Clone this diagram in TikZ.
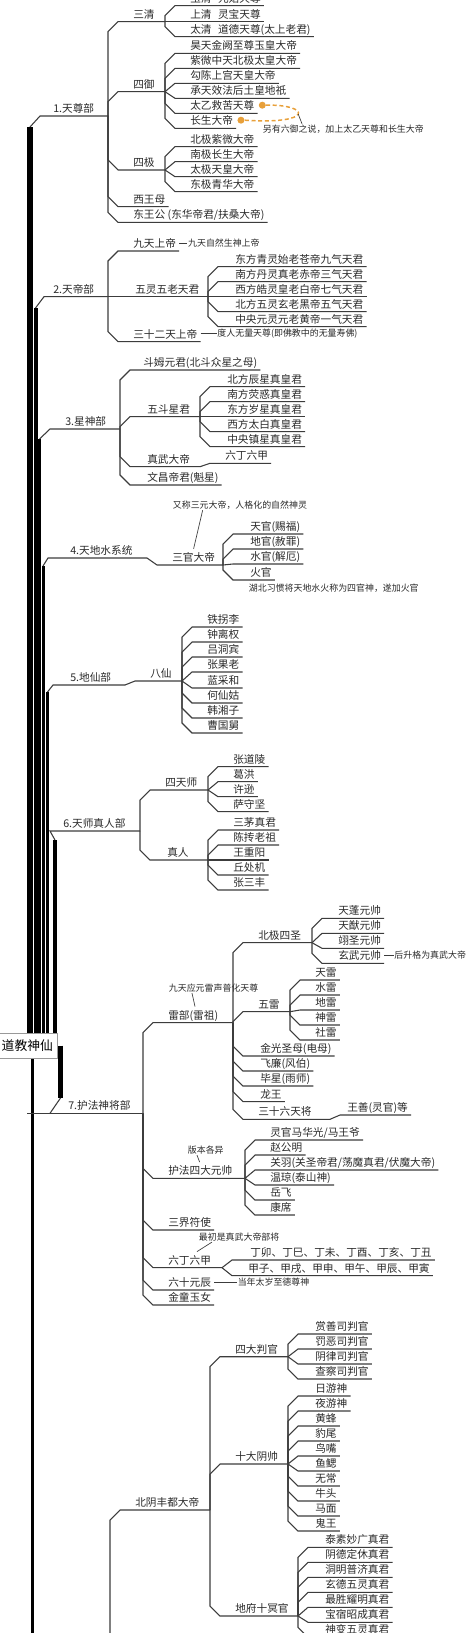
\documentclass[tikz,border=0pt]{standalone}
\usepackage{fontspec}
\newfontfamily\cjk{Noto Sans CJK SC}
\usetikzlibrary{calc,positioning,backgrounds}
\definecolor{linegray}{HTML}{3C3C3C}
\definecolor{inkgray}{HTML}{2A2A2A}
\definecolor{gold}{HTML}{E8A03A}

\begin{document}
\begin{tikzpicture}[
  x=0.75pt, y=-0.75pt,
  every node/.style={font=\cjk\fontsize{8}{9}\selectfont, text=inkgray},
  item/.style={anchor=south west, inner xsep=2.25pt, inner ysep=2.5pt, xshift=-2.25pt, text depth=0pt},
  note/.style={anchor=west, inner sep=0.5pt, font=\cjk\fontsize{6.7}{8}\selectfont},
  conn/.style={draw=linegray, line width=0.8pt},
  leader/.style={draw=linegray, line width=0.5pt},
  bar/.style={draw=black, line width=#1},
  br/.style={to path={let \p1=(\tikztostart), \p2=(\tikztotarget),
    \n1={min(abs(\y2-\y1),7.5pt)}, \n2={(\y2-\y1)/max(abs(\y2-\y1),0.01pt)} in
    -- (\x1,{\y2-(\n2)*\n1}) -- ({\x1+7.5pt},\y2) -- (\tikztotarget)}},
  rootbox/.style={draw=black!40, fill=white, line width=0.6pt, inner xsep=3.5pt,
    minimum height=18.75pt, font=\cjk\fontsize{9.6}{11}\selectfont, text=black},
  odot/.style={circle, fill=gold, inner sep=0pt, minimum size=5.25pt}
]
\useasboundingbox (0,0) rectangle (470,1633);
\clip (0,0) rectangle (470,1633);

\node[rootbox, anchor=east] (root) at (58,1045.5) {道教神仙};

% 1.天尊部
\node[item] (tianzun) at (53,116) {1.天尊部};
\coordinate (tianzun-f) at (108,116);
\node[item] (sanqing) at (133,21.7) {三清};
\coordinate (sanqing-f) at (165,21.7);
\node[item] (yuqing) at (190,5.7) {玉清\hspace{0.6em}元始天尊};
\node[item] (shangqing) at (190,21.7) {上清\hspace{0.6em}灵宝天尊};
\node[item] (taiqing) at (190,36.7) {太清\hspace{0.6em}道德天尊(太上老君)};
\node[item] (siyu) at (133,91.7) {四御};
\coordinate (siyu-f) at (165,91.7);
\node[item] (yuhuang) at (190,53.3) {昊天金阙至尊玉皇大帝};
\node[item] (ziwei) at (190,68.3) {紫微中天北极太皇大帝};
\node[item] (gouchen) at (190,83.3) {勾陈上宫天皇大帝};
\node[item] (houtu) at (190,98.3) {承天效法后土皇地祇};
\node[item] (taiyi) at (190,113.3) {太乙救苦天尊};
\node[item] (changsheng) at (190,128.3) {长生大帝};
\node[item] (siji) at (133,170) {四极};
\coordinate (siji-f) at (165,170);
\node[item] (beiji) at (190,146.7) {北极紫微大帝};
\node[item] (nanji) at (190,161.7) {南极长生大帝};
\node[item] (taiji) at (190,176.7) {太极天皇大帝};
\node[item] (dongji) at (190,191.7) {东极青华大帝};
\node[item] (xiwangmu) at (133,206.7) {西王母};
\node[item] (dongwanggong) at (133,222.3) {东王公 (东华帝君/扶桑大帝)};
\node[odot, right=0.75pt of taiyi] (dot1) {};
\node[odot, right=0.75pt of changsheng] (dot2) {};
\node[note] (nliuyu) at (262,129) {另有六御之说，加上太乙天尊和长生大帝};

\draw[conn] (tianzun-f) edge[br] (sanqing-f) edge[br] (siyu-f) edge[br] (siji-f)
  edge[br] (xiwangmu.south east) edge[br] (dongwanggong.south east);
\draw[conn] (sanqing-f) edge[br] (yuqing.south east) edge[br] (shangqing.south east)
  edge[br] (taiqing.south east);
\draw[conn] (siyu-f) edge[br] (yuhuang.south east) edge[br] (ziwei.south east)
  edge[br] (gouchen.south east) edge[br] (houtu.south east)
  edge[br] (taiyi.south east) edge[br] (changsheng.south east);
\draw[conn] (siji-f) edge[br] (beiji.south east) edge[br] (nanji.south east)
  edge[br] (taiji.south east) edge[br] (dongji.south east);
\draw[gold, line width=1.1pt, dash pattern=on 3pt off 2pt]
  (dot1.east) .. controls (310,104) and (315,125) .. (dot2.east) coordinate[pos=0.5] (dotmid);
\draw[leader] (dotmid) -- ([xshift=30pt]nliuyu.north west);

% 2.天帝部
\node[item] (tiandi) at (53,296.7) {2.天帝部};
\coordinate (tiandi-f) at (108,296.7);
\node[item] (jiutian) at (133,251) {九天上帝};
\node[note, right=6pt of jiutian] (nziran) {九天自然生神上帝};
\node[item] (wuling) at (135,296.7) {五灵五老天君};
\coordinate (wuling-f) at (208,296.7);
\node[item] (qingdi) at (235,266.7) {东方青灵始老苍帝九气天君};
\node[item] (chidi) at (235,281.7) {南方丹灵真老赤帝三气天君};
\node[item] (baidi) at (235,296.7) {西方皓灵皇老白帝七气天君};
\node[item] (heidi) at (235,311.7) {北方五灵玄老黑帝五气天君};
\node[item] (huangdi) at (235,326.7) {中央元灵元老黄帝一气天君};
\node[item] (sanshier) at (133,341.7) {三十二天上帝};
\node[note, right=12pt of sanshier] (nduren) {度人无量天尊(即佛教中的无量寿佛)};

\draw[conn] (tiandi-f) edge[br] (jiutian.south east) edge[br] (wuling-f)
  edge[br] (sanshier.south east);
\draw[conn] (wuling-f) edge[br] (qingdi.south east) edge[br] (chidi.south east)
  edge[br] (baidi.south east) edge[br] (heidi.south east) edge[br] (huangdi.south east);
\draw[leader] (jiutian.east) -- (nziran.west);
\draw[leader] (sanshier.east) -- (nduren.west);

% 3.星神部
\node[item] (xingshen) at (65,429) {3.星神部};
\coordinate (xingshen-f) at (120,429);
\node[item] (doumu) at (143,370) {斗姆元君(北斗众星之母)};
\node[item] (wudou) at (147,416.7) {五斗星君};
\coordinate (wudou-f) at (200,416.7);
\node[item] (chenxing) at (227,386.7) {北方辰星真皇君};
\node[item] (yinghuo) at (227,401.7) {南方荧惑真皇君};
\node[item] (suixing) at (227,416.7) {东方岁星真皇君};
\node[item] (taibai) at (227,431.7) {西方太白真皇君};
\node[item] (zhenxing) at (227,446.7) {中央镇星真皇君};
\node[item] (zhenwu) at (147,466.7) {真武大帝};
\coordinate (zhenwu-f) at (200,466.7);
\node[item] (liujia) at (225,463.3) {六丁六甲};
\node[item] (wenchang) at (147,485) {文昌帝君(魁星)};

\draw[conn] (xingshen-f) edge[br] (doumu.south east) edge[br] (wudou-f)
  edge[br] (zhenwu-f) edge[br] (wenchang.south east);
\draw[conn] (wudou-f) edge[br] (chenxing.south east) edge[br] (yinghuo.south east)
  edge[br] (suixing.south east) edge[br] (taibai.south east) edge[br] (zhenxing.south east);
\draw[conn] (zhenwu-f) edge[br] (liujia.south east);

% 4.天地水系统
\node[item] (tiandishui) at (70,558) {4.天地水系统};
\coordinate (tiandishui-f) at (147,558);
\node[item] (sanguan) at (172,565) {三官大帝};
\coordinate (sanguan-f) at (223,565);
\node[item] (tianguan) at (250,534) {天官(赐福)};
\node[item] (diguan) at (250,549) {地官(赦罪)};
\node[item] (shuiguan) at (250,564) {水官(解厄)};
\node[item] (huoguan) at (250,580) {火官};
\node[note] (nsanyuan) at (172,505) {又称三元大帝，人格化的自然神灵};
\node[note, anchor=north west] (nsiguan) at (248,583.5) {湖北习惯将天地水火称为四官神，遂加火官};

\draw[conn] (tiandishui-f) edge[br] (sanguan-f);
\draw[conn] (sanguan-f) edge[br] (tianguan.south east) edge[br] (diguan.south east)
  edge[br] (shuiguan.south east) edge[br] (huoguan.south east);
\draw[leader] ([xshift=23pt]nsanyuan.south west) -- (sanguan.north);

% 5.地仙部
\node[item] (dixian) at (70,685) {5.地仙部};
\coordinate (dixian-f) at (125,685);
\node[item] (baxian) at (150,681) {八仙};
\coordinate (baxian-f) at (182,681);
\node[item] (tieguaili) at (207,627) {铁拐李};
\node[item] (zhongli) at (207,642) {钟离权};
\node[item] (lvdongbin) at (207,657) {吕洞宾};
\node[item] (zhangguolao) at (207,672) {张果老};
\node[item] (lancaihe) at (207,688) {蓝采和};
\node[item] (hexiangu) at (207,703) {何仙姑};
\node[item] (hanxiangzi) at (207,718) {韩湘子};
\node[item] (caoguojiu) at (207,733) {曹国舅};

\draw[conn] (dixian-f) edge[br] (baxian-f);
\draw[conn] (baxian-f) edge[br] (tieguaili.south east) edge[br] (zhongli.south east)
  edge[br] (lvdongbin.south east) edge[br] (zhangguolao.south east)
  edge[br] (lancaihe.south east) edge[br] (hexiangu.south east)
  edge[br] (hanxiangzi.south east) edge[br] (caoguojiu.south east);

% 6.天师真人部
\node[item] (tianshi) at (63,831) {6.天师真人部};
\coordinate (tianshi-f) at (140,831);
\node[item] (sitianshi) at (165,790) {四天师};
\coordinate (sitianshi-f) at (208,790);
\node[item] (zhangdaoling) at (233,766.7) {张道陵};
\node[item] (gehong) at (233,781.7) {葛洪};
\node[item] (xuxun) at (233,796.7) {许逊};
\node[item] (sashoujian) at (233,811.7) {萨守坚};
\node[item] (zhenren) at (167,860) {真人};
\coordinate (zhenren-f) at (208,860);
\node[item] (sanmao) at (233,830) {三茅真君};
\node[item] (chentuan) at (233,845) {陈抟老祖};
\node[item] (wangchongyang) at (233,860) {王重阳};
\node[item] (qiuchuji) at (233,875) {丘处机};
\node[item] (zhangsanfeng) at (233,890) {张三丰};

\draw[conn] (tianshi-f) edge[br] (sitianshi-f) edge[br] (zhenren-f);
\draw[conn] (sitianshi-f) edge[br] (zhangdaoling.south east) edge[br] (gehong.south east)
  edge[br] (xuxun.south east) edge[br] (sashoujian.south east);
\draw[conn] (zhenren-f) edge[br] (sanmao.south east) edge[br] (chentuan.south east)
  edge[br] (wangchongyang.south east) edge[br] (qiuchuji.south east)
  edge[br] (zhangsanfeng.south east);

% 7.护法神将部
\node[item] (hufa) at (68,1113.3) {7.护法神将部};
\coordinate (hufa-f) at (143,1113.3);
\node[item] (leibu) at (168,1022.7) {雷部(雷祖)};
\coordinate (leibu-f) at (233,1022.7);
\node[note] (nleizu) at (168,988) {九天应元雷声普化天尊};
\node[item] (beijisi) at (258,942.7) {北极四圣};
\coordinate (beijisi-f) at (312,942.7);
\node[item] (tianpeng) at (338,918.3) {天蓬元帅};
\node[item] (tianyou) at (338,933.3) {天猷元帅};
\node[item] (yisheng) at (338,948.3) {翊圣元帅};
\node[item] (xuanwu) at (338,963.3) {玄武元帅};
\node[note, right=7pt of xuanwu] (nshengge) {后升格为真武大帝};
\node[item] (wulei) at (258,1011.7) {五雷};
\coordinate (wulei-f) at (290,1011.7);
\node[item] (tianlei) at (315,980) {天雷};
\node[item] (shuilei) at (315,995) {水雷};
\node[item] (dilei) at (315,1010) {地雷};
\node[item] (shenlei) at (315,1025) {神雷};
\node[item] (shelei) at (315,1040) {社雷};
\node[item] (jinguang) at (260,1056) {金光圣母(电母)};
\node[item] (feilian) at (260,1071) {飞廉(风伯)};
\node[item] (bixing) at (260,1086) {毕星(雨师)};
\node[item] (longwang) at (260,1101.7) {龙王};
\node[item] (tianjiang) at (258,1119.3) {三十六天将};
\coordinate (tianjiang-f) at (330,1119.3);
\node[item] (wangshan) at (347,1115) {王善(灵官)等};
\node[item] (hufasi) at (168,1178.3) {护法四大元帅};
\coordinate (hufasi-f) at (245,1178.3);
\node[note] (nbanben) at (187,1150) {版本各异};
\node[item] (lingguan) at (270,1140) {灵官马华光/马王爷};
\node[item] (zhaogongming) at (270,1155) {赵公明};
\node[item] (guanyu) at (270,1170) {关羽(关圣帝君/荡魔真君/伏魔大帝)};
\node[item] (wenqiong) at (270,1185) {温琼(泰山神)};
\node[item] (yuefei) at (270,1200) {岳飞};
\node[item] (kangxi) at (270,1215) {康席};
\node[item] (sanjie) at (168,1230) {三界符使};
\node[item] (liuding) at (168,1267.7) {六丁六甲};
\coordinate (liuding-f) at (222,1267.7);
\node[note] (nbujiang) at (198,1237) {最初是真武大帝部将};
\node[item] (dingmao) at (250,1260) {丁卯、丁巳、丁未、丁酉、丁亥、丁丑};
\node[item] (jiazi) at (248,1275.7) {甲子、甲戌、甲申、甲午、甲辰、甲寅};
\node[item] (liushi) at (168,1290) {六十元辰};
\node[note, right=17pt of liushi] (ntaisui) {当年太岁至德尊神};
\node[item] (jintong) at (168,1305) {金童玉女};

\draw[conn] (hufa-f) edge[br] (leibu-f) edge[br] (hufasi-f) edge[br] (sanjie.south east)
  edge[br] (liuding-f) edge[br] (liushi.south east) edge[br] (jintong.south east);
\draw[conn] (leibu-f) edge[br] (beijisi-f) edge[br] (wulei-f)
  edge[br] (jinguang.south east) edge[br] (feilian.south east)
  edge[br] (bixing.south east) edge[br] (longwang.south east) edge[br] (tianjiang-f);
\draw[conn] (beijisi-f) edge[br] (tianpeng.south east) edge[br] (tianyou.south east)
  edge[br] (yisheng.south east) edge[br] (xuanwu.south east);
\draw[conn] (wulei-f) edge[br] (tianlei.south east) edge[br] (shuilei.south east)
  edge[br] (dilei.south east) edge[br] (shenlei.south east) edge[br] (shelei.south east);
\draw[conn] (tianjiang-f) edge[br] (wangshan.south east);
\draw[conn] (hufasi-f) edge[br] (lingguan.south east) edge[br] (zhaogongming.south east)
  edge[br] (guanyu.south east) edge[br] (wenqiong.south east)
  edge[br] (yuefei.south east) edge[br] (kangxi.south east);
\draw[conn] (liuding-f) edge[br] (dingmao.south east) edge[br] (jiazi.south east);
\draw[leader] (xuanwu.east) -- (nshengge.west);
\draw[leader] (liushi.east) -- (ntaisui.west);
\draw[leader] ([xshift=18pt]nleizu.south west) -- ([xshift=22.5pt]leibu.north west);
\draw[leader] ([xshift=7.5pt]nbanben.south west) -- ([xshift=26pt]hufasi.north west);
\draw[leader] ([xshift=10.5pt]nbujiang.south west) -- ([xshift=24pt]liuding.north west);

% 北阴丰都大帝
\coordinate (mingfu-f) at (110,1700);
\node[item] (beiyin) at (135,1510) {北阴丰都大帝};
\coordinate (beiyin-f) at (210,1510);
\node[item] (sipan) at (235,1356.7) {四大判官};
\coordinate (sipan-f) at (288,1356.7);
\node[item] (shangshan) at (315,1334) {赏善司判官};
\node[item] (fae) at (315,1349) {罚恶司判官};
\node[item] (yinlv) at (315,1364) {阴律司判官};
\node[item] (chacha) at (315,1379) {查察司判官};
\node[item] (shida) at (235,1464) {十大阴帅};
\coordinate (shida-f) at (288,1464);
\node[item] (riyou) at (315,1396) {日游神};
\node[item] (yeyou) at (315,1411) {夜游神};
\node[item] (huangfeng) at (315,1426) {黄蜂};
\node[item] (baowei) at (315,1441) {豹尾};
\node[item] (niaozui) at (315,1456) {鸟嘴};
\node[item] (yusai) at (315,1471) {鱼鳃};
\node[item] (wuchang) at (315,1486) {无常};
\node[item] (niutou) at (315,1501) {牛头};
\node[item] (mamian) at (315,1516) {马面};
\node[item] (guiwang) at (315,1531) {鬼王};
\node[item] (difu) at (235,1616) {地府十冥官};
\coordinate (difu-f) at (298,1616);
\node[item] (taisu) at (325,1547.3) {泰素妙广真君};
\node[item] (yinde) at (325,1562.3) {阴德定休真君};
\node[item] (dongming) at (325,1577.3) {洞明普济真君};
\node[item] (xuande) at (325,1592.3) {玄德五灵真君};
\node[item] (zuisheng) at (325,1607.3) {最胜耀明真君};
\node[item] (baosu) at (325,1622.3) {宝宿昭成真君};
\node[item] (shenbian) at (325,1637.3) {神变五灵真君};

\draw[conn] (mingfu-f) edge[br] (beiyin-f);
\draw[conn] (beiyin-f) edge[br] (sipan-f) edge[br] (shida-f) edge[br] (difu-f);
\draw[conn] (sipan-f) edge[br] (shangshan.south east) edge[br] (fae.south east)
  edge[br] (yinlv.south east) edge[br] (chacha.south east);
\draw[conn] (shida-f) edge[br] (riyou.south east) edge[br] (yeyou.south east)
  edge[br] (huangfeng.south east) edge[br] (baowei.south east)
  edge[br] (niaozui.south east) edge[br] (yusai.south east)
  edge[br] (wuchang.south east) edge[br] (niutou.south east)
  edge[br] (mamian.south east) edge[br] (guiwang.south east);
\draw[conn] (difu-f) edge[br] (taisu.south east) edge[br] (yinde.south east)
  edge[br] (dongming.south east) edge[br] (xuande.south east)
  edge[br] (zuisheng.south east) edge[br] (baosu.south east) edge[br] (shenbian.south east);

% trunk from the root
\begin{scope}[on background layer]
\fill[white] (0,0) rectangle (470,1633);
\draw[bar=4.5pt] (root.north -| 30,0) -- (30,127);
\draw[bar=3pt] (root.north -| 35.5,0) -- (35.5,308);
\draw[bar=2.25pt] (root.north -| 39.5,0) -- (39.5,439);
\draw[bar=2.25pt] (root.north -| 43,0) -- (43,566);
\draw[bar=2.25pt] (root.north -| 47.5,0) -- (47.5,692);
\draw[bar=3pt] (root.north -| 55,0) -- (55,840);
\draw[bar=2.6pt] (root.south -| 32.5,0) -- (32.5,1640);
\draw[bar=3.75pt] (root.east -| 60.5,0) -- (60.5,1098);
\end{scope}
\draw[conn] (30,127) -- (40,116) -- (tianzun-f);
\draw[conn] (35.5,308) -- (44,296.7) -- (tiandi-f);
\draw[conn] (39.5,439) -- (50,429) -- (xingshen-f);
\draw[conn] (43,566) -- (48,558) -- (tiandishui-f);
\draw[conn] (47.5,692) -- (53,685) -- (dixian-f);
\draw[conn] (55,840) -- (50,831) -- (tianshi-f);
\draw[conn] (60.5,1098) -- (50,1113.3);
\draw[conn] (27,1113.3) -- (hufa-f);
\end{tikzpicture}
\end{document}
